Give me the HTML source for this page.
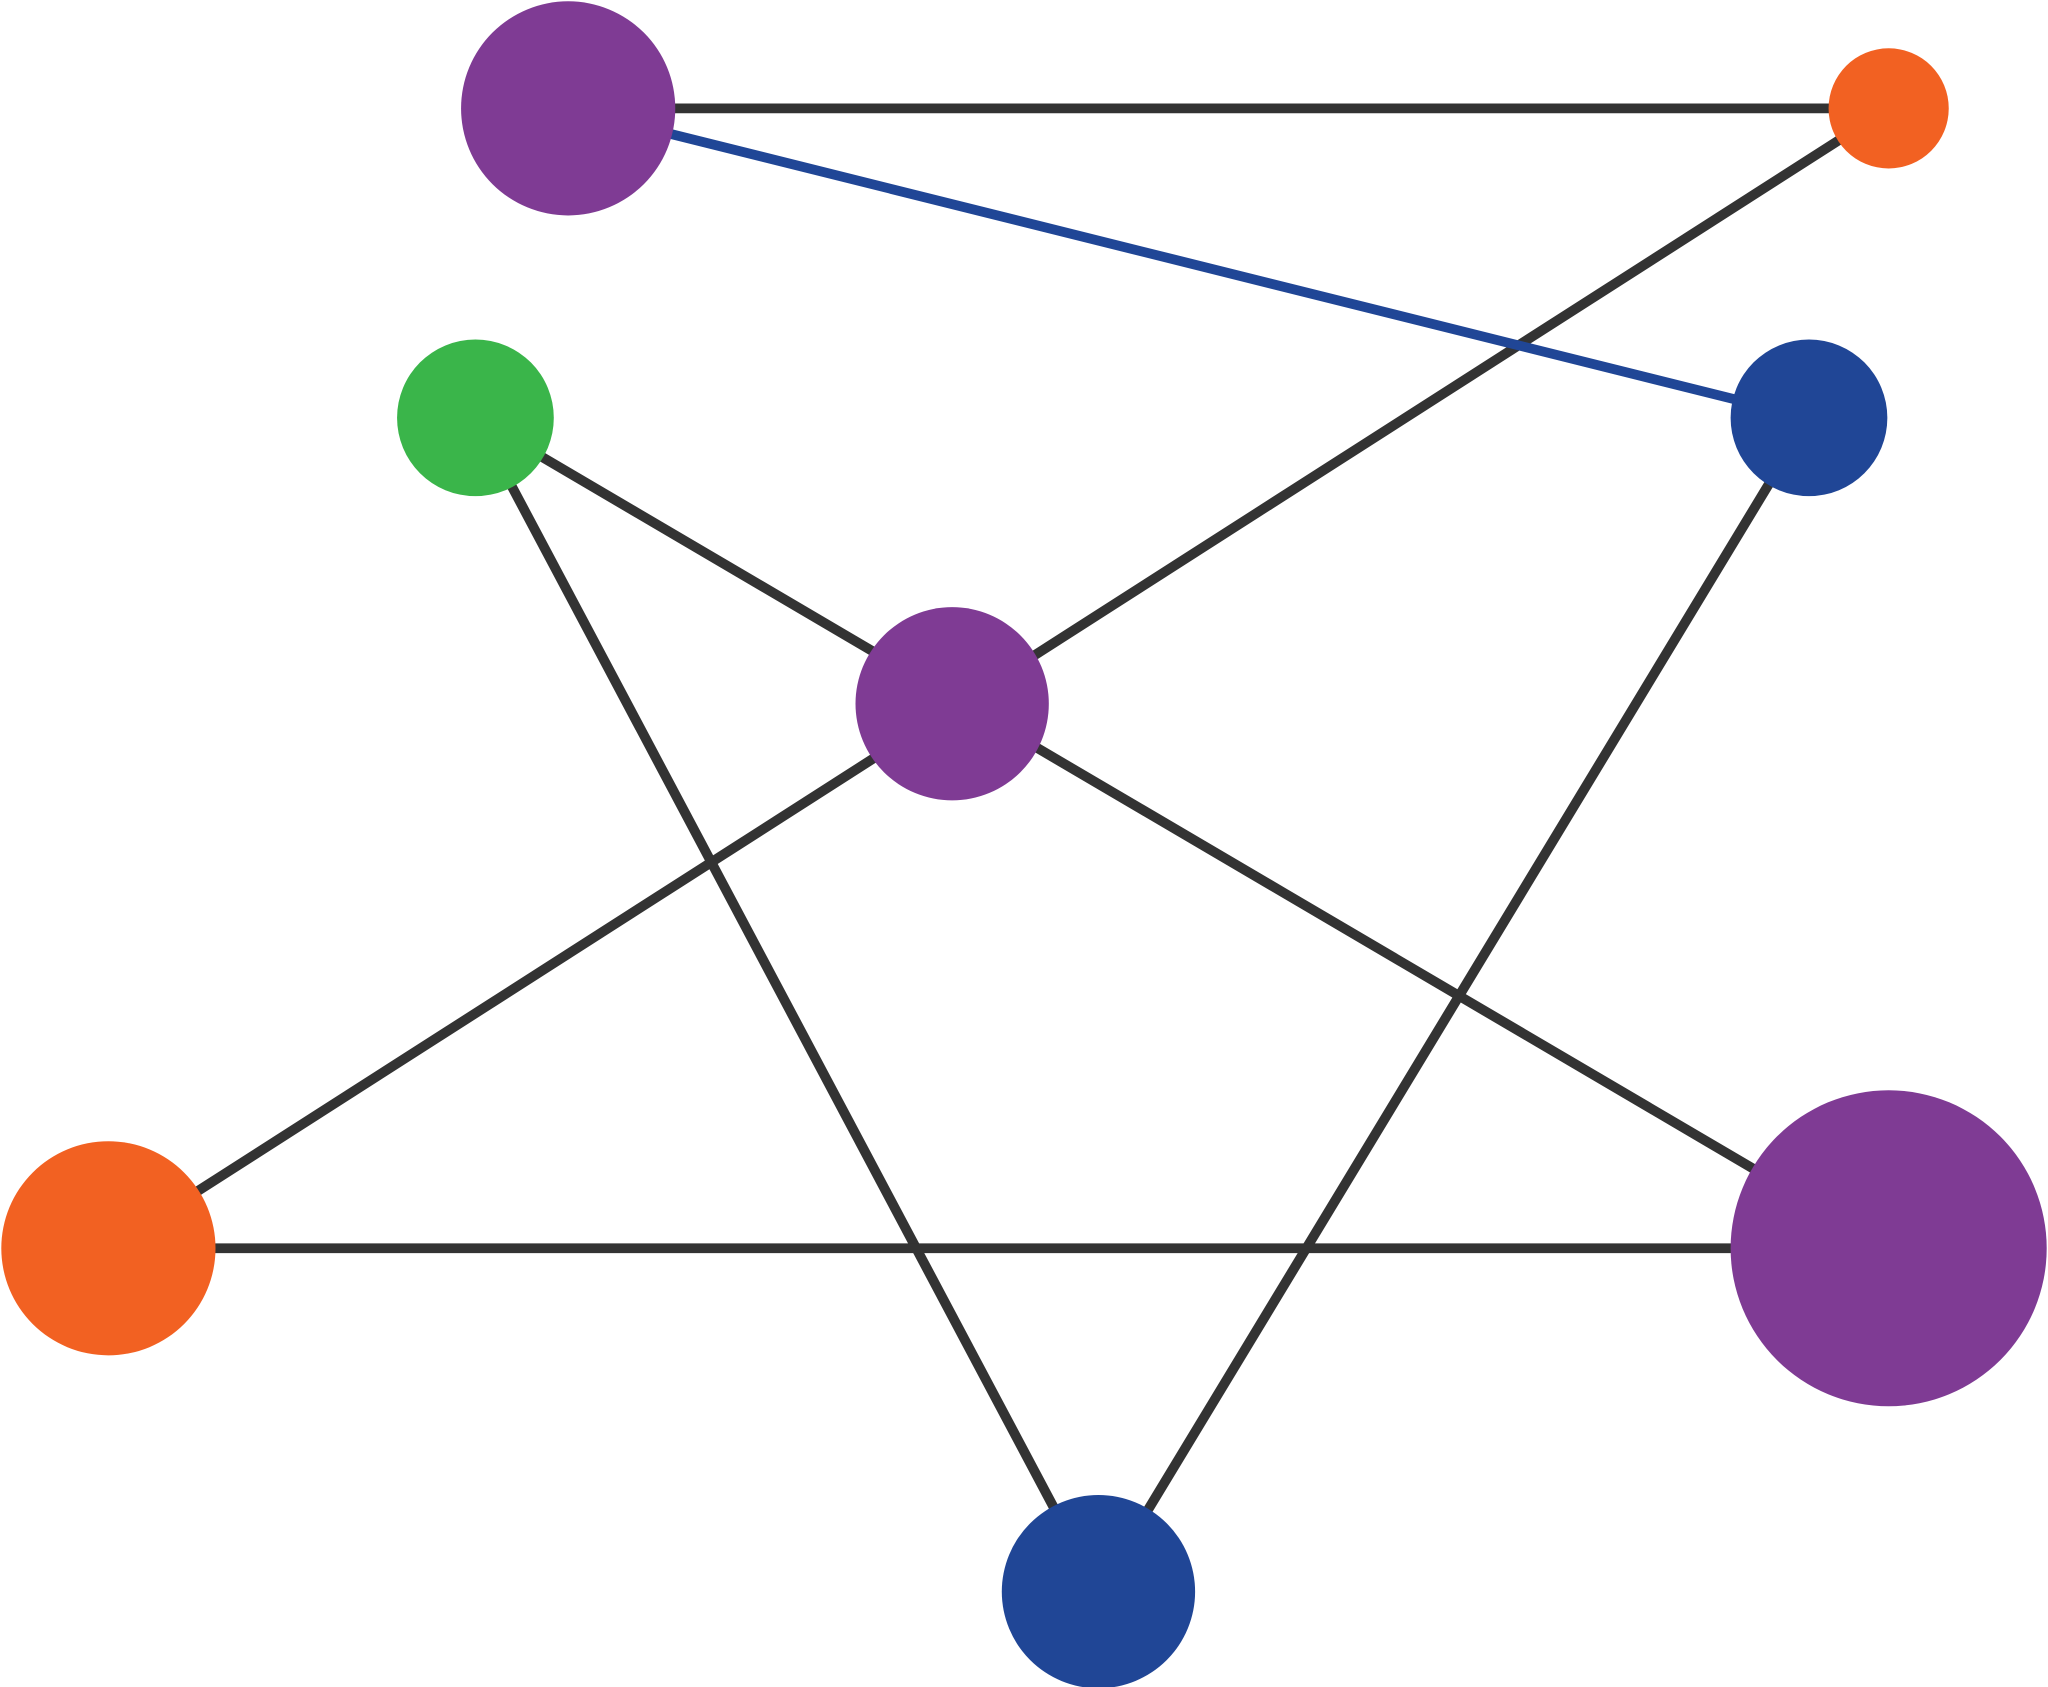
<!DOCTYPE html>
<html>
<head>
<meta charset="utf-8">
<style>
html,body{margin:0;padding:0;background:#fff;}
svg{display:block;}
</style>
</head>
<body>
<svg width="2048" height="1687" viewBox="0 0 1568 1292" preserveAspectRatio="none" xmlns="http://www.w3.org/2000/svg">
<g stroke="#333333" stroke-width="7.5" fill="none">
<line x1="435" y1="83" x2="1446" y2="83"/>
<line x1="1446" y1="83" x2="83" y2="956"/>
<line x1="364" y1="320" x2="1446" y2="956"/>
<line x1="364" y1="320" x2="841" y2="1219"/>
<line x1="1385" y1="320" x2="841" y2="1219"/>
<line x1="83" y1="956" x2="1446" y2="956"/>
</g>
<line x1="435" y1="83" x2="1385" y2="320" stroke="#204696" stroke-width="7.5"/>
<circle cx="435" cy="83" r="82" fill="#7F3B94"/>
<circle cx="1446" cy="83" r="46" fill="#F26122"/>
<circle cx="364" cy="320" r="60" fill="#3AB54A"/>
<circle cx="1385" cy="320" r="60" fill="#204696"/>
<circle cx="729" cy="539" r="74" fill="#7F3B94"/>
<circle cx="83" cy="956" r="82" fill="#F26122"/>
<circle cx="1446" cy="956" r="121" fill="#7F3B94"/>
<circle cx="841" cy="1219" r="74" fill="#204696"/>
</svg>
</body>
</html>
